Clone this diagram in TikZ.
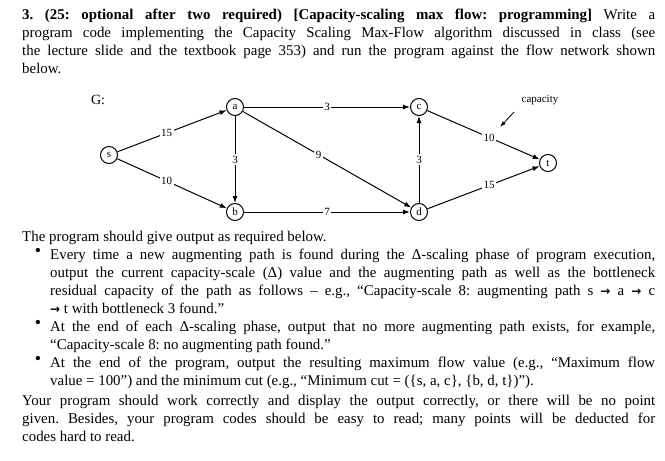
\documentclass[tikz,border=0pt]{standalone}
\usepackage{fontspec}
\usetikzlibrary{arrows.meta}
\setmainfont{Liberation Serif}
\newfontfamily\arrfont{DejaVu Sans}
\newcommand{\rarr}{{\arrfont\fontsize{12}{12}\selectfont\bfseries →}}
\frenchspacing
\begin{document}
\begin{tikzpicture}[x=1pt,y=-1pt,
 vtx/.style={circle,draw,line width=1pt,minimum size=17pt,inner sep=0pt,font=\fontsize{11}{11}\selectfont},
 edg/.style={-{Latex[length=7pt,width=5pt]},line width=1pt},
 lab/.style={fill=white,inner sep=1.5pt,font=\fontsize{11}{11}\selectfont},
 bul/.style={font=\fontsize{18}{18}\selectfont,inner sep=0pt,anchor=north},
 para/.style={anchor=north west,inner sep=0pt,align=justify,font=\fontsize{14.9}{18}\selectfont}]
\useasboundingbox (0,0) rectangle (665,461);
\node[para,text width=633pt] (top) at (22,9) {\textbf{3. (25: optional after two required) [Capacity-scaling max flow: programming]} Write a\linebreak program code implementing the Capacity Scaling Max-Flow algorithm discussed in class (see\linebreak the lecture slide and the textbook page 353) and run the program against the flow network shown\linebreak below.};
\node[font=\fontsize{14}{14}\selectfont] (G) at (98,100) {G:};
\node[vtx] (s) at (109,155) {s};
\node[vtx] (a) at (235,107) {a};
\node[vtx] (c) at (419,107) {c};
\node[vtx] (b) at (235,212) {b};
\node[vtx] (d) at (419,212) {d};
\node[vtx] (t) at (548,163) {t};
\draw[edg] (s) -- node[lab,pos=0.45] {15} (a);
\draw[edg] (s) -- node[lab,pos=0.45] {10} (b);
\draw[edg] (a) -- node[lab] {3} (c);
\draw[edg] (a) -- node[lab] {3} (b);
\draw[edg] (a) -- node[lab,pos=0.45] {9} (d);
\draw[edg] (b) -- node[lab] {7} (d);
\draw[edg] (d) -- node[lab] {3} (c);
\draw[edg] (c) -- node[lab,pos=0.55] {10} (t);
\draw[edg] (d) -- node[lab,pos=0.55] {15} (t);
\node[font=\fontsize{11}{11}\selectfont] (cap) at (540,100) {capacity};
\coordinate (ce) at (500,127);
\draw[-{Latex[length=6pt,width=4pt]},line width=0.8pt] (514,112) -- (ce);
\node[para,text width=633pt] (p1) at (22,231) {The program should give output as required below.};
\node[bul] (b1) at (38,248) {•};
\node[para,text width=605pt] (i1) at (50,249) {Every time a new augmenting path is found during the Δ-scaling phase of program execution,\linebreak output the current capacity-scale (Δ) value and the augmenting path as well as the bottleneck\linebreak residual capacity of the path as follows – e.g., “Capacity-scale 8: augmenting path s \rarr{} a \rarr{} c\linebreak \rarr{} t with bottleneck 3 found.”};
\node[bul] (b2) at (38,320) {•};
\node[para,text width=605pt] (i2) at (50,321) {At the end of each Δ-scaling phase, output that no more augmenting path exists, for example,\linebreak “Capacity-scale 8: no augmenting path found.”};
\node[bul] (b3) at (38,356) {•};
\node[para,text width=605pt] (i3) at (50,357) {At the end of the program, output the resulting maximum flow value (e.g., “Maximum flow\linebreak value = 100”) and the minimum cut (e.g., “Minimum cut = (\{s, a, c\}, \{b, d, t\})”).};
\node[para,text width=633pt] (p2) at (22,395) {Your program should work correctly and display the output correctly, or there will be no point\linebreak given. Besides, your program codes should be easy to read; many points will be deducted for\linebreak codes hard to read.};
\end{tikzpicture}
\end{document}
